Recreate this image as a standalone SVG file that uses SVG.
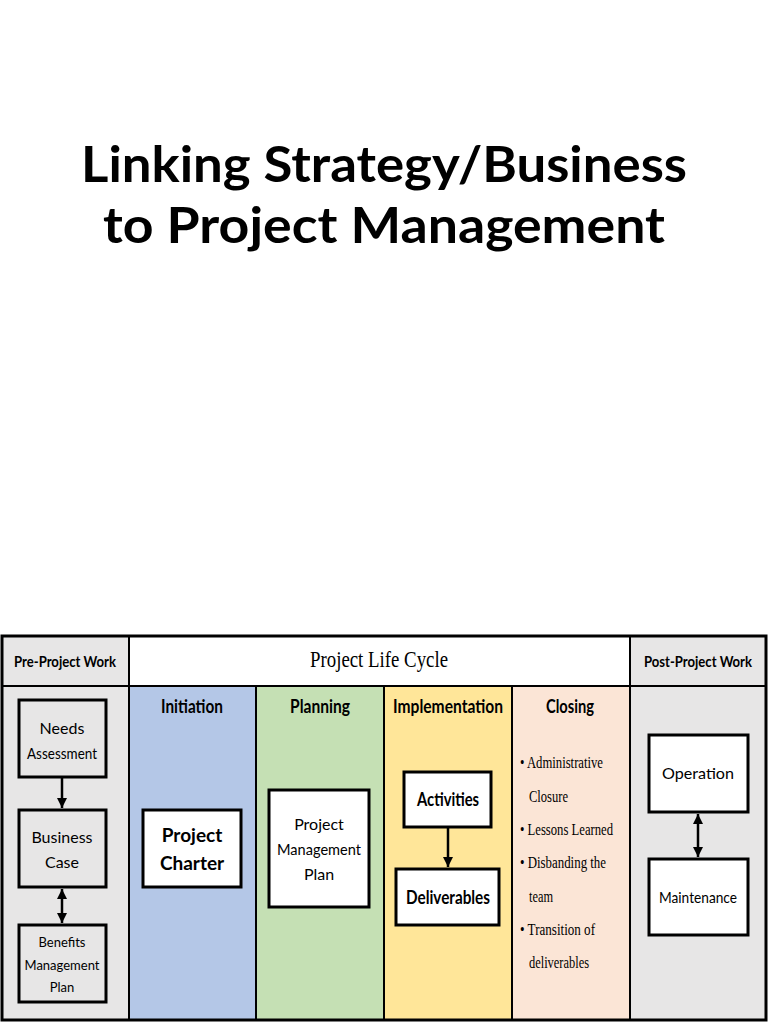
<svg xmlns="http://www.w3.org/2000/svg" width="768" height="1024" viewBox="0 0 768 1024">
<defs>
<marker id="ah" viewBox="0 0 10 10" refX="10" refY="5" markerWidth="4" markerHeight="4" orient="auto-start-reverse" markerUnits="strokeWidth">
<path d="M0,0 L10,5 L0,10 z" fill="#000"/>
</marker>
<style>
.title{font-family:Lato,"Liberation Sans",sans-serif;font-weight:bold;font-size:50px;fill:#000;text-anchor:middle}
.hdr{font-family:Lato,"Liberation Sans",sans-serif;font-weight:bold;font-size:15px;fill:#000;text-anchor:middle}
.plc{font-family:"Liberation Serif",serif;font-size:23px;fill:#000;text-anchor:middle}
.col{font-family:Lato,"Liberation Sans",sans-serif;font-weight:bold;font-size:18px;fill:#000;text-anchor:middle}
.nt{font-family:Lato,"Liberation Sans",sans-serif;font-size:16px;fill:#000;text-anchor:middle}
.ntb{font-family:Lato,"Liberation Sans",sans-serif;font-weight:bold;font-size:19px;fill:#000;text-anchor:middle}
.nts{font-family:Lato,"Liberation Sans",sans-serif;font-size:13px;fill:#000;text-anchor:middle}
.bul{font-family:"Liberation Serif",serif;font-size:16px;fill:#000}
.box{fill:#fff;stroke:#000;stroke-width:3}
.gbox{fill:#e7e6e6;stroke:#000;stroke-width:3}
.div{stroke:#000;stroke-width:2}
.con{stroke:#000;stroke-width:2.5;fill:none}
</style>
</defs>
<rect width="768" height="1024" fill="#fff"/>
<g id="title">
<text class="title" x="384" y="182" textLength="606" lengthAdjust="spacingAndGlyphs">Linking Strategy/Business</text>
<text class="title" x="384" y="243" textLength="562" lengthAdjust="spacingAndGlyphs">to Project Management</text>
</g>
<g id="frame">
<rect x="2" y="636" width="127" height="50" fill="#e7e6e6"/>
<rect x="129" y="636" width="501" height="50" fill="#fff"/>
<rect x="630" y="636" width="136" height="50" fill="#e7e6e6"/>
<rect x="2" y="686" width="127" height="334" fill="#e7e6e6"/>
<rect x="129" y="686" width="127" height="334" fill="#b4c7e7"/>
<rect x="256" y="686" width="128" height="334" fill="#c5e0b4"/>
<rect x="384" y="686" width="128" height="334" fill="#ffe699"/>
<rect x="512" y="686" width="118" height="334" fill="#fbe5d6"/>
<rect x="630" y="686" width="136" height="334" fill="#e7e6e6"/>
<line class="div" x1="2" y1="686" x2="766" y2="686" stroke-width="3"/>
<line class="div" x1="129" y1="636" x2="129" y2="1020" stroke-width="3"/>
<line class="div" x1="630" y1="636" x2="630" y2="1020" stroke-width="3"/>
<line class="div" x1="256" y1="686" x2="256" y2="1020"/>
<line class="div" x1="384" y1="686" x2="384" y2="1020"/>
<line class="div" x1="512" y1="686" x2="512" y2="1020"/>
<rect x="2" y="636" width="764" height="384" fill="none" stroke="#000" stroke-width="3"/>
</g>
<g id="headers">
<text class="hdr" x="65" y="667" textLength="102" lengthAdjust="spacingAndGlyphs">Pre-Project Work</text>
<text class="plc" x="379" y="667" textLength="138" lengthAdjust="spacingAndGlyphs">Project Life Cycle</text>
<text class="hdr" x="698" y="667" textLength="108" lengthAdjust="spacingAndGlyphs">Post-Project Work</text>
<text class="col" x="192" y="713" textLength="62" lengthAdjust="spacingAndGlyphs">Initiation</text>
<text class="col" x="320" y="713" textLength="60" lengthAdjust="spacingAndGlyphs">Planning</text>
<text class="col" x="448" y="713" textLength="110" lengthAdjust="spacingAndGlyphs">Implementation</text>
<text class="col" x="570" y="713" textLength="48" lengthAdjust="spacingAndGlyphs">Closing</text>
</g>
<g id="needs-assessment">
<rect class="gbox" x="19" y="700" width="87" height="77"/>
<text class="nt" x="62" y="734">Needs</text>
<text class="nt" x="62" y="759" textLength="70" lengthAdjust="spacingAndGlyphs">Assessment</text>
</g>
<g id="business-case">
<rect class="gbox" x="19" y="810" width="87" height="77"/>
<text class="nt" x="62" y="843">Business</text>
<text class="nt" x="62" y="868">Case</text>
</g>
<g id="benefits-management-plan">
<rect class="gbox" x="19" y="925" width="87" height="77"/>
<text class="nts" x="62" y="947">Benefits</text>
<text class="nts" x="62" y="970">Management</text>
<text class="nts" x="62" y="992">Plan</text>
</g>
<g id="project-charter">
<rect class="box" x="143" y="810" width="98" height="77"/>
<text class="ntb" x="192" y="842">Project</text>
<text class="ntb" x="192" y="870">Charter</text>
</g>
<g id="project-management-plan">
<rect class="box" x="269" y="790" width="100" height="117"/>
<text class="nt" x="319" y="830">Project</text>
<text class="nt" x="319" y="855" textLength="84" lengthAdjust="spacingAndGlyphs">Management</text>
<text class="nt" x="319" y="880">Plan</text>
</g>
<g id="activities">
<rect class="box" x="404" y="772" width="87" height="55"/>
<text class="ntb" x="448" y="806" textLength="62" lengthAdjust="spacingAndGlyphs">Activities</text>
</g>
<g id="deliverables">
<rect class="box" x="396" y="869" width="103" height="56"/>
<text class="ntb" x="448" y="904" textLength="84" lengthAdjust="spacingAndGlyphs">Deliverables</text>
</g>
<g id="closing-list">
<text class="bul" x="520" y="768" textLength="83" lengthAdjust="spacingAndGlyphs">• Administrative</text>
<text class="bul" x="529" y="802" textLength="39" lengthAdjust="spacingAndGlyphs">Closure</text>
<text class="bul" x="520" y="835" textLength="93" lengthAdjust="spacingAndGlyphs">• Lessons Learned</text>
<text class="bul" x="520" y="868" textLength="86" lengthAdjust="spacingAndGlyphs">• Disbanding the</text>
<text class="bul" x="529" y="902" textLength="24" lengthAdjust="spacingAndGlyphs">team</text>
<text class="bul" x="520" y="935" textLength="75" lengthAdjust="spacingAndGlyphs">• Transition of</text>
<text class="bul" x="529" y="968" textLength="60" lengthAdjust="spacingAndGlyphs">deliverables</text>
</g>
<g id="operation">
<rect class="box" x="649" y="735" width="99" height="77"/>
<text class="nt" x="698" y="779" textLength="72" lengthAdjust="spacingAndGlyphs">Operation</text>
</g>
<g id="maintenance">
<rect class="box" x="649" y="859" width="99" height="76"/>
<text class="nt" x="698" y="903" textLength="78" lengthAdjust="spacingAndGlyphs">Maintenance</text>
</g>
<g id="connectors">
<line class="con" x1="62" y1="778" x2="62" y2="808" marker-end="url(#ah)"/>
<line class="con" x1="62" y1="889" x2="62" y2="923" marker-start="url(#ah)" marker-end="url(#ah)"/>
<line class="con" x1="448" y1="828" x2="448" y2="867" marker-end="url(#ah)"/>
<line class="con" x1="698" y1="814" x2="698" y2="857" marker-start="url(#ah)" marker-end="url(#ah)"/>
</g>
</svg>
